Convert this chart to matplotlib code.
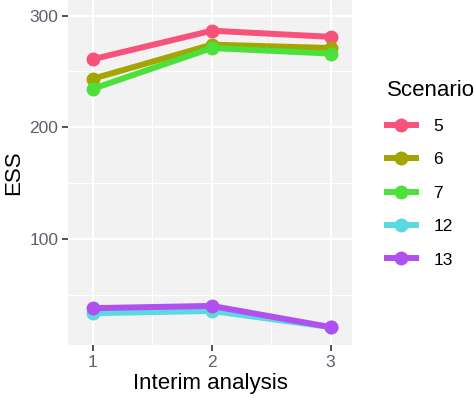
import matplotlib
matplotlib.use("Agg")
import matplotlib.pyplot as plt
from matplotlib.lines import Line2D

plt.rcParams['font.family'] = ['Liberation Sans', 'DejaVu Sans']

interim = [1, 2, 3]
scenarios = ["5", "6", "7", "12", "13"]
ess_5 = [261, 286.5, 281]
ess_6 = [243.5, 274, 271]
ess_7 = [234.5, 271, 266]
ess_12 = [33.5, 35.5, 21]
ess_13 = [38, 40, 21]
colors = ["#F8527A", "#A3A500", "#4CE03A", "#5BD8E0", "#B150F0"]

series = [ess_5, ess_6, ess_7, ess_12, ess_13]

fig = plt.figure(figsize=(4.74, 3.98), dpi=100)
ax = fig.add_axes([68/474, 53/398, 284/474, 345/398])
ax.set_facecolor("#F2F2F2")

for vals, col, name in zip(series, colors, scenarios):
    ax.plot(interim, vals, color=col, lw=4.3, marker="o", ms=9,
            solid_capstyle="butt", label=name, zorder=3)

ax.set_xlim(0.79, 3.18)
ax.set_ylim(5, 314)
ax.set_xticks(interim)
ax.set_xticks([1.5, 2.5], minor=True)
ax.set_yticks([100, 200, 300])
ax.set_yticks([50, 150, 250], minor=True)
ax.grid(True, which="major", color="white", lw=1.6)
ax.grid(True, which="minor", color="white", lw=0.8)
ax.set_axisbelow(True)
for s in ax.spines.values():
    s.set_visible(False)
ax.tick_params(which="major", length=4, width=1.2, color="#333333",
               labelsize=12.5, labelcolor="#59626B", pad=3)
ax.tick_params(which="minor", length=0)
ax.set_xlabel("Interim analysis", fontsize=16, labelpad=2)
ax.set_ylabel("ESS", fontsize=16, labelpad=4)

handles = [Line2D([0], [0], color=c, lw=4.3, marker="o", ms=9) for c in colors]
leg = fig.legend(handles, scenarios, title="Scenario", loc="upper left",
                 bbox_to_anchor=(371/474, 1 - 64/398), frameon=False,
                 fontsize=12.5, title_fontsize=16, handlelength=1.7,
                 labelspacing=1.05, handletextpad=1.0, alignment="left")

fig.savefig("out.png", dpi=100)
